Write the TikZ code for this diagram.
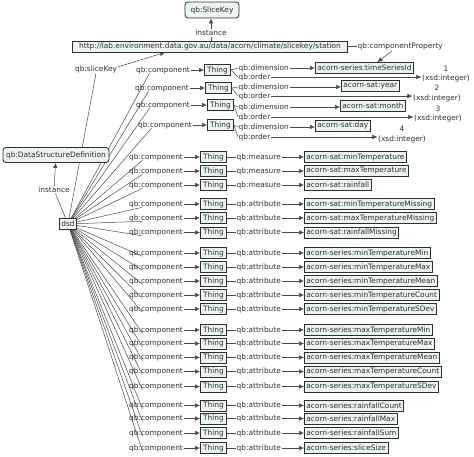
\documentclass[tikz,border=0pt]{standalone}
\usepackage{fontspec}
\setmainfont{DejaVu Sans}
\usetikzlibrary{arrows.meta,calc}
\definecolor{boxfill}{HTML}{EAF4F0}
\definecolor{ink}{HTML}{2E2E2E}
\definecolor{wirec}{HTML}{4A4A4A}
\pgfdeclarelayer{bg}
\pgfsetlayers{bg,main}
\begin{document}
\begin{tikzpicture}[x=1pt,y=-1pt,
  font=\fontsize{7.4}{9.5}\selectfont, text=ink,
  box/.style={draw=ink, fill=boxfill, line width=0.85pt, inner xsep=2pt, inner ysep=1pt, minimum height=11pt, anchor=west},
  thing/.style={box, minimum width=26pt},
  rbox/.style={box, rounded corners=3pt, anchor=center},
  lab/.style={inner sep=0.5pt},
  lit/.style={inner sep=0.5pt, align=center},
  wire/.style={draw=wirec, line width=0.5pt},
  arr/.style={wire, -{Latex[length=5pt,width=4.5pt]}},
]
\useasboundingbox (0,0) rectangle (474,456);

% top
\node[rbox, minimum width=54pt, minimum height=16pt] (sk) at (212,10) {qb:SliceKey};
\node[box, anchor=center, minimum width=275pt] (st) at (210,46.5) {http://lab.environment.data.gov.au/data/acorn/climate/slicekey/station};
\node[lab] (inst1) at (211,33) {instance};
\node[lab, anchor=west] (cp) at (357,46.5) {qb:componentProperty};
\node[lab] (slk) at (96,69) {qb:sliceKey};

% dsd
\node[rbox, minimum width=106pt, minimum height=15pt] (dsdef) at (56,155) {qb:DataStructureDefinition};
\node[lab] (inst2) at (54,190) {instance};
\node[box, anchor=center] (dsd) at (68,224) {dsd};

% dimension rows
\node[lab] (ck1) at (163,70) {qb:component};
\node[thing] (th1) at (204,70) {Thing};
\node[lab, anchor=west] (dm1) at (238,68) {qb:dimension};
\node[lab, anchor=west] (od1) at (238,77) {qb:order};
\node[box] (ts) at (315,68) {acorn-series:timeSeriesId};
\node[lit] (l1) at (446,74) {1\\(xsd:integer)};

\node[lab] (ck2) at (162,88) {qb:component};
\node[thing] (th2) at (205,88) {Thing};
\node[lab, anchor=west] (dm2) at (238,87) {qb:dimension};
\node[lab, anchor=west] (od2) at (238,96) {qb:order};
\node[box] (yr) at (341,85.5) {acorn-sat:year};
\node[lit] (l2) at (437,93.5) {2\\(xsd:integer)};

\node[lab] (ck3) at (163,105) {qb:component};
\node[thing] (th3) at (207,105) {Thing};
\node[lab, anchor=west] (dm3) at (238,107) {qb:dimension};
\node[lab, anchor=west] (od3) at (238,117) {qb:order};
\node[box] (mo) at (340,105.5) {acorn-sat:month};
\node[lit] (l3) at (438,114) {3\\(xsd:integer)};

\node[lab] (ck4) at (165,125) {qb:component};
\node[thing] (th4) at (207,125) {Thing};
\node[lab, anchor=west] (dm4) at (238,127) {qb:dimension};
\node[lab, anchor=west] (od4) at (238,137) {qb:order};
\node[box] (dy) at (315,125.5) {acorn-sat:day};
\node[lit] (l4) at (402,134.5) {4\\(xsd:integer)};

\begin{pgfonlayer}{bg}
\draw[wire] (st.north -| inst1) -- (inst1.south);
\draw[arr] (inst1.north) -- (sk.south -| inst1);
\draw[wire] (st.east) -- (cp.west);
\draw[arr] ([xshift=-8pt]cp.south) -- ([xshift=13pt]ts.north);
\draw[arr] ([yshift=2pt]slk.east) -- ([xshift=-45pt]st.south);
\draw[wire] (dsd) -- (slk.south);
\draw[wire] (dsd) -- (inst2);
\draw[arr] (inst2) -- (dsdef);
\foreach \i/\b in {1/ts,2/yr,3/mo,4/dy}{
  \draw[wire] (dsd) -- ([xshift=14pt,yshift=1pt]ck\i.south west);
  \draw[arr] (ck\i) -- (th\i);
  \draw[wire] (th\i.east) -- (dm\i.west);
  \draw[wire] (th\i.east) -- (od\i.west);
  \draw[arr] (dm\i.east) -- (dm\i.east -| \b.west);
  \draw[arr] (od\i.east) -- (od\i.east -| l\i.west);
}
\end{pgfonlayer}

% measure / attribute rows
\foreach \y/\p/\t [count=\i] in {
  157/measure/acorn-sat:minTemperature,
  171/measure/acorn-sat:maxTemperature,
  185/measure/acorn-sat:rainfall,
  204/attribute/acorn-sat:minTemperatureMissing,
  218/attribute/acorn-sat:maxTemperatureMissing,
  232.5/attribute/acorn-sat:rainfallMissing,
  253/attribute/acorn-series:minTemperatureMin,
  267/attribute/acorn-series:minTemperatureMax,
  281/attribute/acorn-series:minTemperatureMean,
  295/attribute/acorn-series:minTemperatureCount,
  309/attribute/acorn-series:minTemperatureSDev,
  330/attribute/acorn-series:maxTemperatureMin,
  343.5/attribute/acorn-series:maxTemperatureMax,
  357.5/attribute/acorn-series:maxTemperatureMean,
  371.5/attribute/acorn-series:maxTemperatureCount,
  386.5/attribute/acorn-series:maxTemperatureSDev,
  405.5/attribute/acorn-series:rainfallCount,
  418.5/attribute/acorn-series:rainfallMax,
  433/attribute/acorn-series:rainfallSum,
  448/attribute/acorn-series:sliceSize}{
  \node[lab] (c\i) at (156,\y) {qb:component};
  \node[thing] (t\i) at (200,\y) {Thing};
  \node[lab, anchor=west] (p\i) at (236,\y) {qb:\p};
  \node[box] (b\i) at (304,\y) {\t};
  \begin{pgfonlayer}{bg}
  \draw[wire] (dsd) -- ([xshift=14pt,yshift=1pt]c\i.south west);
  \draw[arr] (c\i) -- (t\i);
  \draw[wire] (t\i.east) -- (p\i.west);
  \draw[arr] (p\i.east) -- (p\i.east -| b\i.west);
  \end{pgfonlayer}
}
\end{tikzpicture}
\end{document}
